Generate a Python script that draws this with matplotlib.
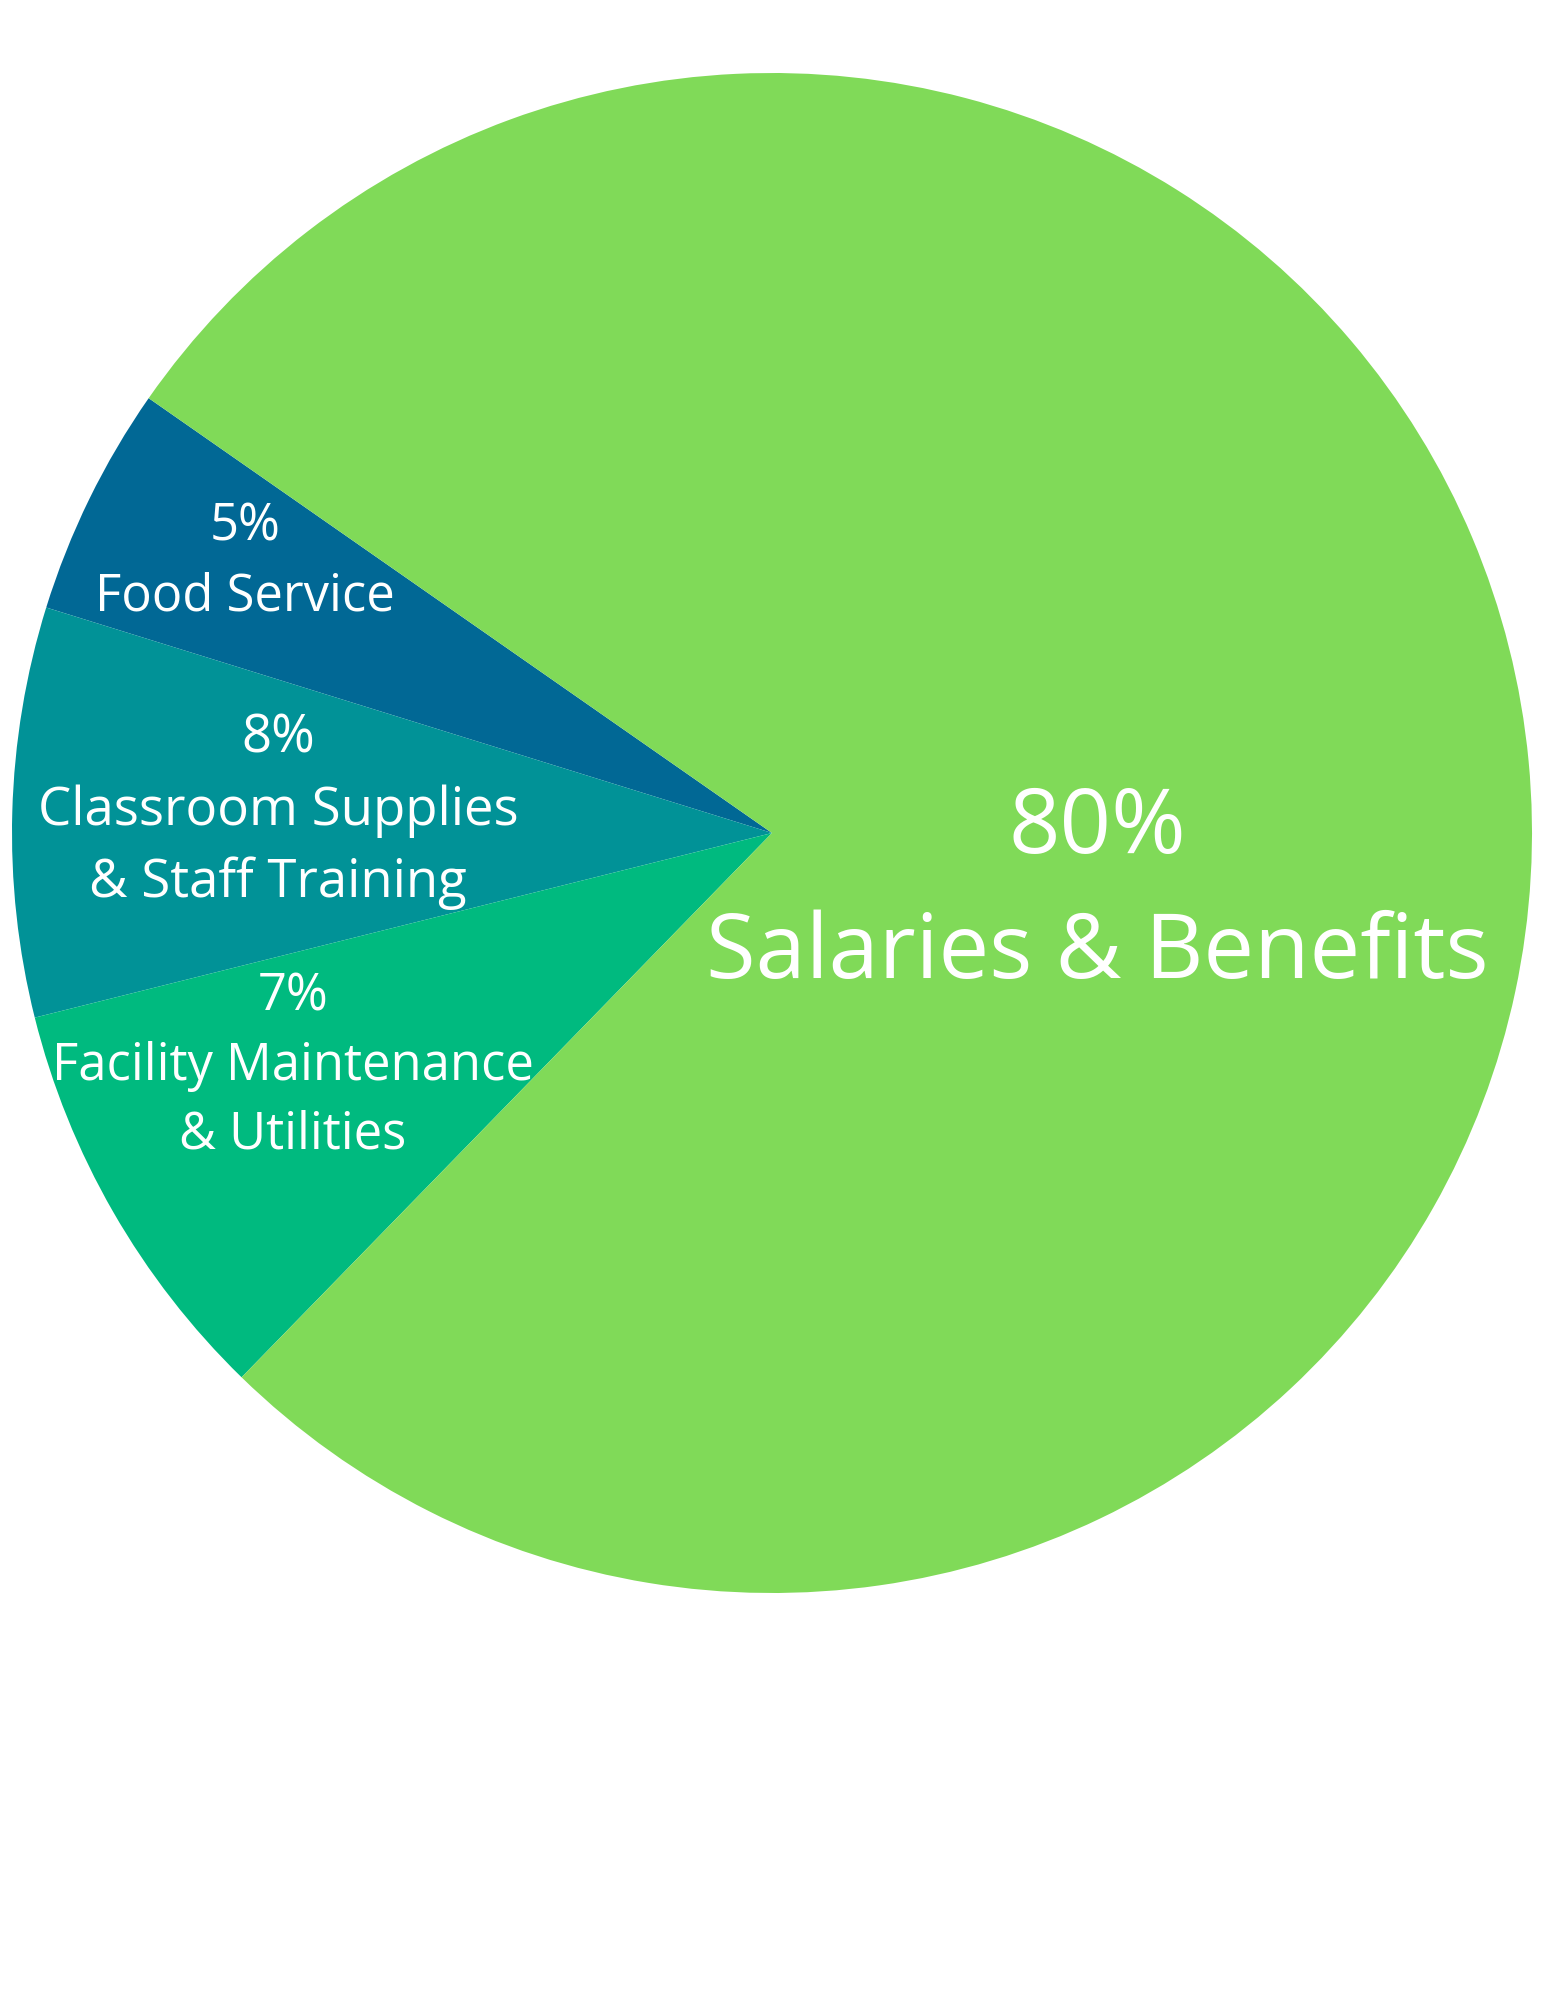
"""
School budget pie chart: where the money goes.
Writes out.png (1545 x 2000 px).
"""

import matplotlib.pyplot as plt

# ---------- data ----------
categories = ["Food Service", "Classroom Supplies\n& Staff Training",
              "Facility Maintenance\n& Utilities", "Salaries & Benefits"]
pct_labels = ["5%", "8%", "7%", "80%"]
# wedge sizes as drawn in the picture (the artwork is not exactly to scale)
wedge_sizes = [4.9, 8.7, 8.8, 77.6]
colors = ["#016895", "#019297", "#00BA7F", "#80DA58"]

plt.rcParams["font.family"] = ["Open Sans", "DejaVu Sans"]

W, H = 1545, 2000
fig = plt.figure(figsize=(W / 100, H / 100), dpi=100)
ax = fig.add_axes([0, 0, 1, 1])

cx, cy, r = 772, H - 833, 760
ax.pie(wedge_sizes, colors=colors, startangle=145.1, counterclock=True,
       center=(cx, cy), radius=r, frame=True,
       wedgeprops=dict(linewidth=0, antialiased=True))
ax.set_xlim(0, W)
ax.set_ylim(0, H)
ax.set_aspect("equal")
ax.axis("off")

# label anchors (pixel positions in the image, y measured from top)
label_xy = [(245, 562), (278, 811), (293, 1066), (1097, 892)]
sizes = [36.5, 38, 36.5, 65]
spacing = [1.47, 1.45, 1.47, 1.5]

for cat, pct, (lx, ly), fs, ls in zip(categories, pct_labels, label_xy, sizes, spacing):
    ax.text(lx, H - ly, f"{pct}\n{cat}", ha="center", va="center",
            color="white", fontsize=fs, linespacing=ls,
            multialignment="center")

fig.savefig("out.png", dpi=100, facecolor="white")
